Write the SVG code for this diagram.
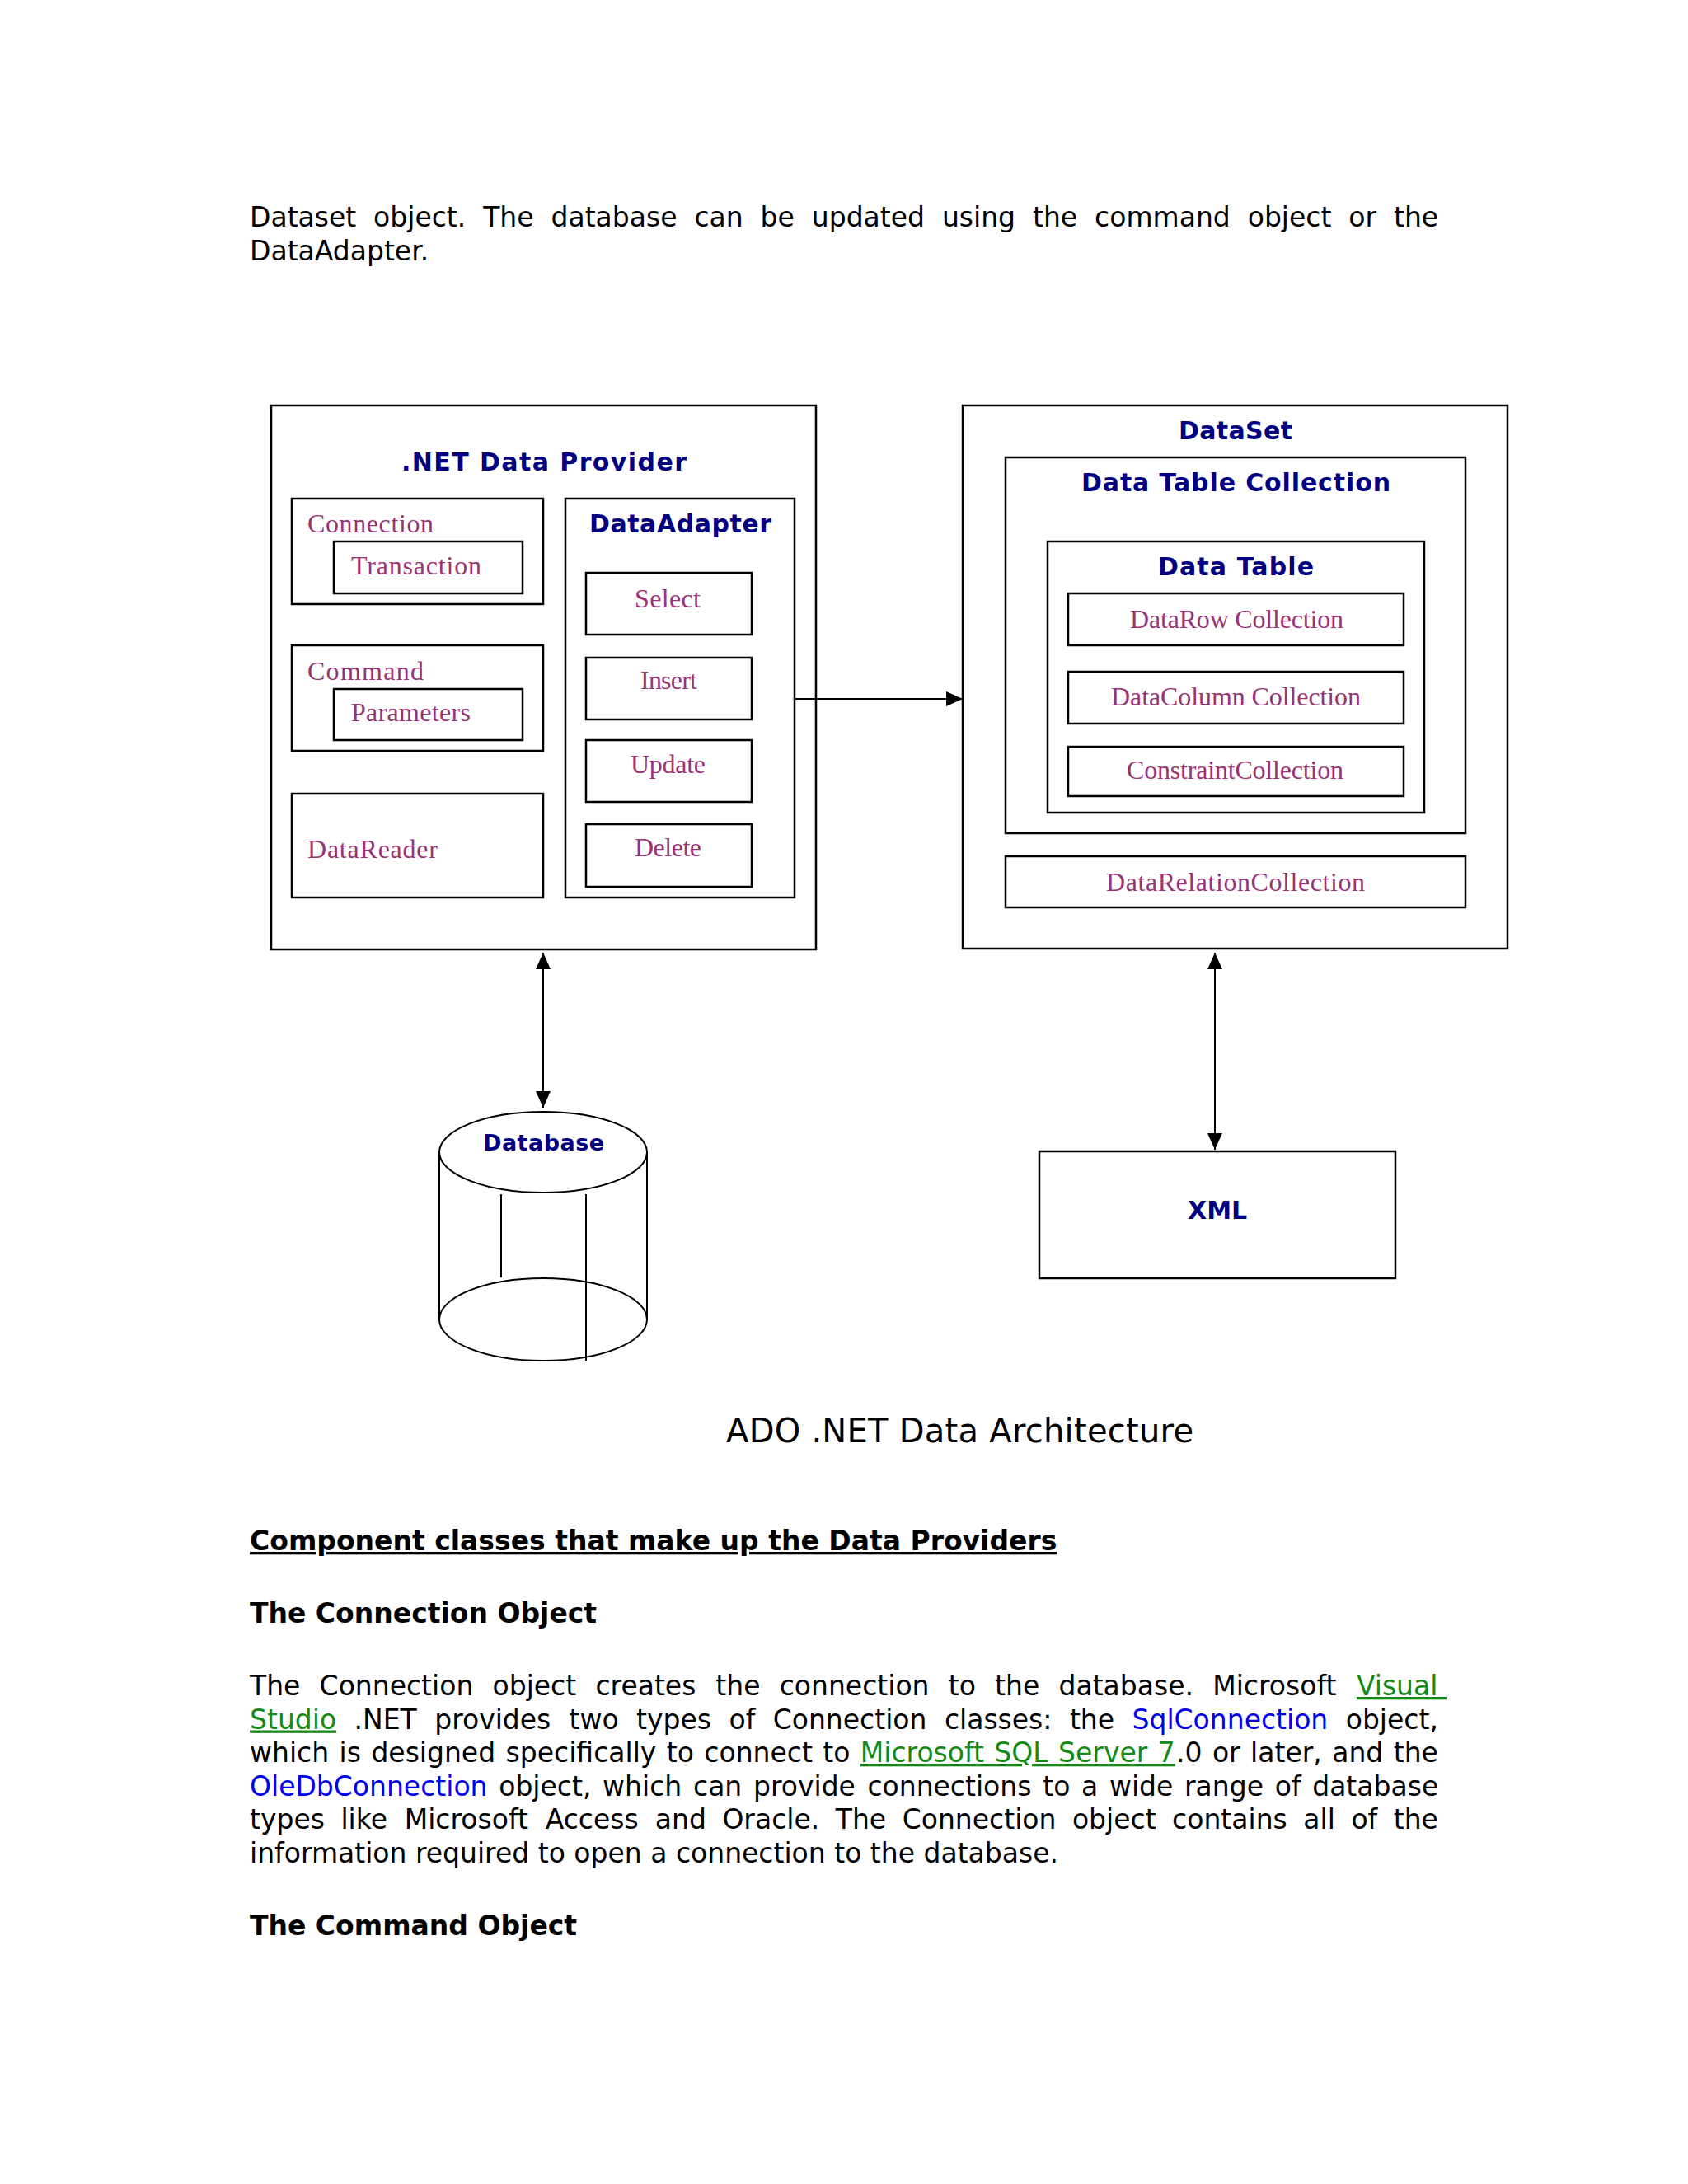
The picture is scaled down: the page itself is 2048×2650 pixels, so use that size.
<svg xmlns="http://www.w3.org/2000/svg" width="2048" height="2650" viewBox="0 0 2048 2650">
<defs>
<style>
.box{fill:none;stroke:#000;stroke-width:2.5}
.conn{fill:none;stroke:#000;stroke-width:2}
.navy{font-family:"DejaVu Sans",Verdana,sans-serif;font-weight:bold;font-size:30px;fill:#000080}
.purple{font-family:"Liberation Serif","Times New Roman",serif;font-size:32px;fill:#993377}
.body{font-family:"DejaVu Sans",Verdana,sans-serif;font-size:33px;fill:#000}
.hb{font-family:"DejaVu Sans",Verdana,sans-serif;font-size:33px;font-weight:bold;fill:#000}
.lg{fill:#138a13;text-decoration:underline}
.lb{fill:#0000ee}
</style>
<marker id="ah" viewBox="0 0 20 18" refX="20" refY="9" markerWidth="20" markerHeight="18" markerUnits="userSpaceOnUse" orient="auto-start-reverse">
<path d="M0,0 L20,9 L0,18 z" fill="#000"/>
</marker>
</defs>
<rect x="0" y="0" width="2048" height="2650" fill="#fff"/>

<g id="intro-text" class="body">
<text y="275"><tspan x="303">Dataset</tspan> <tspan x="453.1">object.</tspan> <tspan x="586.2">The</tspan> <tspan x="668.5">database</tspan> <tspan x="842.4">can</tspan> <tspan x="922.6">be</tspan> <tspan x="984.8">updated</tspan> <tspan x="1142.9">using</tspan> <tspan x="1253">the</tspan> <tspan x="1328.1">command</tspan> <tspan x="1513.7">object</tspan> <tspan x="1636.3">or</tspan> <tspan x="1691">the</tspan></text>
<text x="303" y="315.5">DataAdapter.</text>
</g>

<g id="net-data-provider">
<rect class="box" x="329" y="492" width="661" height="660"/>
<text class="navy" x="487" y="571" textLength="346" lengthAdjust="spacing">.NET Data Provider</text>
</g>
<g id="connection">
<rect class="box" x="354" y="605" width="305" height="128"/>
<text class="purple" x="373" y="646" textLength="153" lengthAdjust="spacing">Connection</text>
</g>
<g id="transaction">
<rect class="box" x="405" y="657" width="229" height="63"/>
<text class="purple" x="426" y="697" textLength="158" lengthAdjust="spacing">Transaction</text>
</g>
<g id="command">
<rect class="box" x="354" y="783" width="305" height="128"/>
<text class="purple" x="373" y="825" textLength="141" lengthAdjust="spacing">Command</text>
</g>
<g id="parameters">
<rect class="box" x="405" y="836" width="229" height="62"/>
<text class="purple" x="426" y="875" textLength="145" lengthAdjust="spacing">Parameters</text>
</g>
<g id="datareader">
<rect class="box" x="354" y="963" width="305" height="126"/>
<text class="purple" x="373" y="1041" textLength="158" lengthAdjust="spacing">DataReader</text>
</g>
<g id="dataadapter">
<rect class="box" x="686" y="605" width="278" height="484"/>
<text class="navy" x="715" y="646" textLength="221" lengthAdjust="spacing">DataAdapter</text>
</g>
<g id="select">
<rect class="box" x="711" y="695" width="201" height="75"/>
<text class="purple" x="770" y="737" textLength="80" lengthAdjust="spacing">Select</text>
</g>
<g id="insert">
<rect class="box" x="711" y="798" width="201" height="75"/>
<text class="purple" x="777" y="836" textLength="69" lengthAdjust="spacing">Insert</text>
</g>
<g id="update">
<rect class="box" x="711" y="898" width="201" height="75"/>
<text class="purple" x="765" y="938" textLength="91" lengthAdjust="spacing">Update</text>
</g>
<g id="delete">
<rect class="box" x="711" y="1000" width="201" height="76"/>
<text class="purple" x="770" y="1039" textLength="81" lengthAdjust="spacing">Delete</text>
</g>

<g id="dataset">
<rect class="box" x="1168" y="492" width="661" height="659"/>
<text class="navy" x="1430" y="533" textLength="138" lengthAdjust="spacing">DataSet</text>
</g>
<g id="data-table-collection">
<rect class="box" x="1220" y="555" width="558" height="456"/>
<text class="navy" x="1312" y="596" textLength="375" lengthAdjust="spacing">Data Table Collection</text>
</g>
<g id="data-table">
<rect class="box" x="1271" y="657" width="457" height="329"/>
<text class="navy" x="1405" y="698" textLength="189" lengthAdjust="spacing">Data Table</text>
</g>
<g id="datarow-collection">
<rect class="box" x="1296" y="720" width="407" height="63"/>
<text class="purple" x="1371" y="762" textLength="259" lengthAdjust="spacing">DataRow Collection</text>
</g>
<g id="datacolumn-collection">
<rect class="box" x="1296" y="815" width="407" height="63"/>
<text class="purple" x="1348" y="856" textLength="303" lengthAdjust="spacing">DataColumn Collection</text>
</g>
<g id="constraint-collection">
<rect class="box" x="1296" y="906" width="407" height="60"/>
<text class="purple" x="1367" y="945" textLength="263" lengthAdjust="spacing">ConstraintCollection</text>
</g>
<g id="datarelation-collection">
<rect class="box" x="1220" y="1039" width="558" height="62"/>
<text class="purple" x="1342" y="1081" textLength="314" lengthAdjust="spacing">DataRelationCollection</text>
</g>

<g id="database">
<line class="conn" x1="533" y1="1398" x2="533" y2="1601"/>
<line class="conn" x1="785" y1="1398" x2="785" y2="1601"/>
<ellipse class="conn" cx="659" cy="1398" rx="126" ry="49"/>
<ellipse class="conn" cx="659" cy="1601" rx="126" ry="50"/>
<line class="conn" x1="608" y1="1449" x2="608" y2="1550"/>
<line class="conn" x1="711" y1="1449" x2="711" y2="1651"/>
<text class="navy" style="font-size:27px" x="586" y="1396" textLength="147" lengthAdjust="spacing">Database</text>
</g>

<g id="xml">
<rect class="box" x="1261" y="1397" width="432" height="154"/>
<text class="navy" style="font-size:30px" x="1441" y="1479">XML</text>
</g>

<g id="connectors">
<line class="conn" x1="964" y1="848" x2="1168" y2="848" marker-end="url(#ah)"/>
<line class="conn" x1="659" y1="1156" x2="659" y2="1344" marker-start="url(#ah)" marker-end="url(#ah)"/>
<line class="conn" x1="1474" y1="1156" x2="1474" y2="1395" marker-start="url(#ah)" marker-end="url(#ah)"/>
</g>

<g id="caption">
<text x="881" y="1750" style="font-family:'DejaVu Sans',Verdana,sans-serif;font-size:40px;fill:#000" textLength="567" lengthAdjust="spacing">ADO .NET Data Architecture</text>
</g>

<g id="article-text">
<text class="hb" x="303" y="1881" style="text-decoration:underline">Component classes that make up the Data Providers</text>
<text class="hb" x="303" y="1969">The Connection Object</text>
<g class="body">
<text y="2057"><tspan x="303">The</tspan> <tspan x="387.6">Connection</tspan> <tspan x="597.5">object</tspan> <tspan x="722.4">creates</tspan> <tspan x="868.3">the</tspan> <tspan x="945.7">connection</tspan> <tspan x="1150.8">to</tspan> <tspan x="1207.1">the</tspan> <tspan x="1284.5">database.</tspan> <tspan x="1471.2">Microsoft</tspan> <tspan x="1645.9" class="lg">Visual&#160;</tspan></text>
<text y="2097.5"><tspan x="303" class="lg">Studio</tspan> <tspan x="429.6">.NET</tspan> <tspan x="527.2">provides</tspan> <tspan x="690.6">two</tspan> <tspan x="772.1">types</tspan> <tspan x="884.5">of</tspan> <tspan x="937.7">Connection</tspan> <tspan x="1145.9">classes:</tspan> <tspan x="1297.9">the</tspan> <tspan x="1373.5" class="lb">SqlConnection</tspan> <tspan x="1632.7">object,</tspan></text>
<text y="2138"><tspan x="303">which</tspan> <tspan x="411.6">is</tspan> <tspan x="450.4">designed</tspan> <tspan x="613.6">specifically</tspan> <tspan x="808.8">to</tspan> <tspan x="854.3">connect</tspan> <tspan x="998.3">to</tspan> <tspan x="1043.8" class="lg" style="word-spacing:1.9px">Microsoft SQL Server 7</tspan><tspan x="1427">.0</tspan> <tspan x="1470.9">or</tspan> <tspan x="1517.1">later,</tspan> <tspan x="1616.2">and</tspan> <tspan x="1690.7">the</tspan></text>
<text y="2178.5"><tspan x="303" class="lb">OleDbConnection</tspan> <tspan x="605.2">object,</tspan> <tspan x="731.1">which</tspan> <tspan x="841">can</tspan> <tspan x="914">provide</tspan> <tspan x="1052.4">connections</tspan> <tspan x="1265.2">to</tspan> <tspan x="1312">a</tspan> <tspan x="1345.9">wide</tspan> <tspan x="1437">range</tspan> <tspan x="1546.7">of</tspan> <tspan x="1592.2">database</tspan></text>
<text y="2219"><tspan x="303">types</tspan> <tspan x="413.4">like</tspan> <tspan x="490.7">Microsoft</tspan> <tspan x="661.7">Access</tspan> <tspan x="794.8">and</tspan> <tspan x="876.4">Oracle.</tspan> <tspan x="1013.8">The</tspan> <tspan x="1094.7">Connection</tspan> <tspan x="1300.9">object</tspan> <tspan x="1422.1">contains</tspan> <tspan x="1581.3">all</tspan> <tspan x="1639.4">of</tspan> <tspan x="1690.7">the</tspan></text>
<text x="303" y="2259.5">information required to open a connection to the database.</text>
</g>
<text class="hb" x="303" y="2348">The Command Object</text>
</g>
</svg>
